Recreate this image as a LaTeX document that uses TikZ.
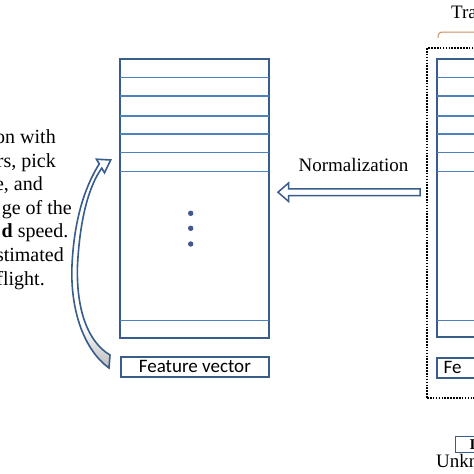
\documentclass[tikz,border=0pt]{standalone}
\usepackage{fontspec}
\setmainfont{Liberation Serif}
\newfontfamily\tnr{Liberation Serif}
\newfontfamily\calib{Carlito}
\definecolor{boxblue}{RGB}{56,93,138}
\definecolor{lineblue}{RGB}{79,129,189}
\definecolor{dotblue}{RGB}{64,90,140}
\definecolor{bracecol}{RGB}{205,140,95}
\tikzset{
  tablebox/.style={draw=boxblue, line width=2pt, inner sep=0pt, outer sep=0pt, anchor=north west},
  rowline/.style={draw=lineblue, line width=1.3pt},
  fvbox/.style={draw=boxblue, line width=1.8pt, inner sep=0pt, outer sep=0pt, anchor=north west},
  dotbox/.style={draw=black, line width=2.2pt, dash pattern=on 1.6pt off 1.3pt, inner sep=0pt, outer sep=0pt, anchor=north west},
  txt/.style={font=\tnr\fontsize{19}{23}\selectfont, inner sep=0pt},
  sidetxt/.style={font=\tnr\fontsize{20}{24}\selectfont, inner sep=0pt, anchor=base east},
  fvtxt/.style={font=\calib\fontsize{19}{23}\selectfont, inner sep=0pt},
}
\begin{document}
\begin{tikzpicture}[x=1pt,y=-1pt]
\useasboundingbox (0,0) rectangle (474,474);
\clip (0,0) rectangle (474,474);
\fill[white] (0,0) rectangle (474,474);

% left table
\node (ltab) [tablebox, minimum width=149pt, minimum height=279pt] at (120,59) {};
\foreach \yy in {77.7,96,116,134,152.7,171.7,320.7}
  \draw[rowline] (ltab.west |- 0,\yy) -- (ltab.east |- 0,\yy);
\foreach \yy in {213.3,228.3,244}
  \fill[dotblue] (190.7,\yy) circle (2.7pt);
\node (lfv) [fvbox, minimum width=148.3pt, minimum height=20.6pt] at (120.7,356.7) {};
\node[fvtxt, anchor=base] at (lfv.center |- 0,372.3) {Feature vector};

% right part
\node (rbox) [dotbox, minimum width=70pt, minimum height=350pt] at (427,48) {};
\node (rtab) [tablebox, minimum width=70pt, minimum height=278pt] at (437,59) {};
\foreach \yy in {77.7,96,116,134,152.7,171.7,320.7}
  \draw[rowline] (rtab.west |- 0,\yy) -- (rtab.east |- 0,\yy);
\node (rfv) [fvbox, minimum width=70pt, minimum height=20pt] at (437,358) {};
\node[fvtxt, anchor=base west] at (443.5,373.3) {Fe};

% brace and top label
\draw[bracecol, line width=1pt] (438,38) .. controls (438,34) and (439,32) .. (443,32) -- (480,32);
\node[txt, anchor=base west] (tra) at (451,18) {Tra};

% bottom
\node (ubox) [fvbox, minimum width=40pt, minimum height=16pt] at (455.5,436.5) {};
\node[txt, anchor=base west, font=\tnr\fontsize{15}{17}\selectfont\bfseries] at (469.5,449) {I};
\node[txt, anchor=base west] (unk) at (436,467) {Unkn};

% normalization
\node[txt, anchor=base] (norm) at (353.5,171.7) {Normalization};
\filldraw[draw=boxblue, fill=white, line width=1.5pt, line join=miter]
  (420,188.8) -- (288.5,188.8) -- (288.5,183) -- (278,192.2) -- (288.5,201.4) -- (288.5,195.6) -- (420,195.6) -- cycle;

% left text
\node[sidetxt] at (56,143.3) {on with};
\node[sidetxt] at (56,167) {rs, pick};
\node[sidetxt] at (43,190.6) {e, and};
\node[sidetxt] at (72,214.2) {ge of the};
\node[sidetxt] at (68.5,237.8) {\textbf{d} speed.};
\node[sidetxt] at (64,261.4) {stimated};
\node[sidetxt] at (45,285) {flight.};

% curved arrow
\begin{scope}
  \clip (109,368) .. controls (84,350) and (70,310) .. (72,265)
    .. controls (74,222) and (84,188) .. (99.25,163.9)
    -- (96.5,159.2) -- (110.7,160) -- (104.5,172.8) -- (101.75,168.1)
    .. controls (89,186) and (80,218) .. (77.5,265)
    .. controls (76,310) and (88,342) .. (110,355) -- cycle;
  \fill[white] (60,150) rectangle (120,372);
  \shade[top color=white, bottom color=gray!55] (60,325) rectangle (120,370);
\end{scope}
\draw[draw=boxblue, line width=1.6pt, line join=miter]
  (109,368) .. controls (84,350) and (70,310) .. (72,265)
    .. controls (74,222) and (84,188) .. (99.25,163.9)
    -- (96.5,159.2) -- (110.7,160) -- (104.5,172.8) -- (101.75,168.1)
    .. controls (89,186) and (80,218) .. (77.5,265)
    .. controls (76,310) and (88,342) .. (110,355) -- cycle;
\end{tikzpicture}
\end{document}
